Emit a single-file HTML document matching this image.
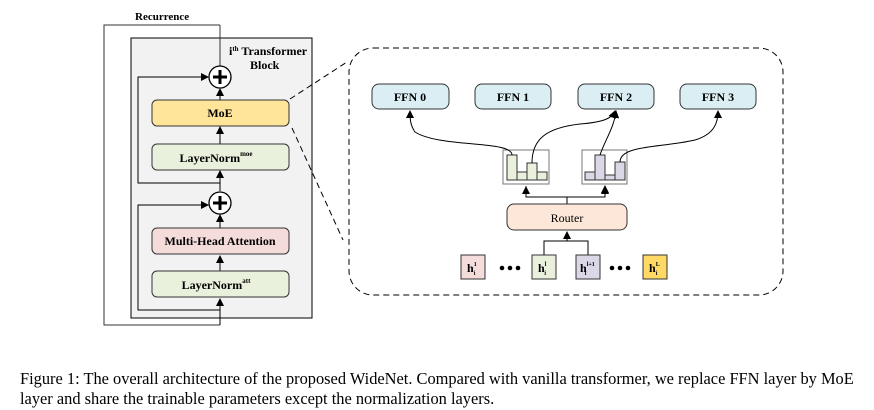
<!DOCTYPE html>
<html><head><style>
body{margin:0;background:#fff;width:874px;height:410px;overflow:hidden;font-family:"Liberation Serif",serif}
.cap{position:absolute;left:20px;top:369px;font-size:16.4px;line-height:20px;color:#000;white-space:nowrap}
</style></head><body>
<svg width="874" height="360" style="position:absolute;left:0;top:0" font-family="Liberation Serif, serif">
<defs><marker id="a" markerWidth="8" markerHeight="8" refX="7" refY="4" orient="auto" markerUnits="userSpaceOnUse"><path d="M0,0L8,4L0,8z" fill="#000"/></marker></defs>
<path d="M220,25H104V325H220" fill="none" stroke="#333" stroke-width="1"/>
<text x="135" y="20" font-size="11" font-weight="bold">Recurrence</text>
<rect x="131" y="38" width="181" height="280" fill="#f2f2f2" stroke="#000"/>
<line x1="220" y1="25" x2="220" y2="66" stroke="#333"/>
<text x="229" y="55" font-size="12" font-weight="bold">i<tspan font-size="7" dy="-4">th</tspan><tspan dy="4"> Transformer</tspan></text>
<text x="250" y="69" font-size="12" font-weight="bold">Block</text>
<g stroke="#000" fill="none">
<path d="M220,325V299" marker-end="url(#a)"/>
<path d="M220,271V256" marker-end="url(#a)"/>
<path d="M220,228V215" marker-end="url(#a)"/>
<path d="M220,191V171" marker-end="url(#a)"/>
<path d="M220,144V127" marker-end="url(#a)"/>
<path d="M220,100V89" marker-end="url(#a)"/>
<path d="M220,310H138V205H208" marker-end="url(#a)"/>
<path d="M220,183H138V77H208" marker-end="url(#a)"/>
</g>
<g stroke="#000" stroke-width="1.3">
<circle cx="220" cy="77" r="11" fill="#fff"/><path d="M213,77H227M220,70V84" stroke-width="3"/>
<circle cx="220" cy="203" r="11" fill="#fff"/><path d="M213,203H227M220,196V210" stroke-width="3"/>
</g>
<g stroke="#333">
<rect x="152" y="100" width="137" height="26" rx="5" fill="#ffe599"/>
<rect x="152" y="144" width="137" height="26" rx="5" fill="#e9f0dc"/>
<rect x="152" y="228" width="137" height="26" rx="5" fill="#f4dcdb"/>
<rect x="152" y="271" width="137" height="26" rx="5" fill="#e9f0dc"/>
</g>
<g font-size="12" font-weight="bold" text-anchor="middle">
<text x="220" y="117">MoE</text>
<text x="216" y="162">LayerNorm<tspan font-size="7" dy="-6">moe</tspan></text>
<text x="220" y="245">Multi-Head Attention</text>
<text x="216" y="289">LayerNorm<tspan font-size="7" dy="-6">att</tspan></text>
</g>
<g stroke="#000" stroke-dasharray="6,4" fill="none">
<path d="M290,99L347,62"/><path d="M292,128L343,240"/>
<rect x="349" y="48" width="434" height="247" rx="24"/>
</g>
<g stroke="#333" fill="#dbeef3">
<rect x="372" y="84" width="77" height="25" rx="7"/>
<rect x="475" y="84" width="76" height="25" rx="7"/>
<rect x="578" y="84" width="76" height="25" rx="7"/>
<rect x="680" y="84" width="76" height="25" rx="7"/>
</g>
<g font-size="12" font-weight="bold" text-anchor="middle">
<text x="410" y="101">FFN 0</text><text x="513" y="101">FFN 1</text><text x="616" y="101">FFN 2</text><text x="718" y="101">FFN 3</text>
</g>
<rect x="503" y="150" width="46" height="34" stroke="#777" fill="#fff"/>
<rect x="582" y="150" width="45" height="34" stroke="#777" fill="#fff"/>
<g stroke="#333" fill="#e9f0dc">
<rect x="507" y="155" width="10" height="25"/><rect x="517" y="172" width="10" height="8"/><rect x="527" y="163" width="10" height="17"/><rect x="537" y="172" width="10" height="8"/>
</g>
<g stroke="#333" fill="#dcd7e6">
<rect x="585" y="172" width="10" height="8"/><rect x="595" y="155" width="10" height="25"/><rect x="605" y="175" width="10" height="5"/><rect x="615" y="162" width="10" height="18"/>
</g>
<g fill="none" stroke="#000">
<path d="M512,155C512,140 440,148 415,132C410,125 410,118 410,111" marker-end="url(#a)"/>
<path d="M532,163C532,140 545,128 580,124C605,122 612,118 615,111" marker-end="url(#a)"/>
<path d="M600,155C605,140 614,128 616,111" marker-end="url(#a)"/>
<path d="M620,162C620,145 660,148 695,140C715,134 718,122 718,111" marker-end="url(#a)"/>
<path d="M567,204V197H526V186M567,197H605V186" marker-end="url(#a)"/>
<path d="M544,255V241H588V255M567,241V232" marker-end="url(#a)"/>
</g>
<path d="M526,186l-4,8h8z M605,186l-4,8h8z" fill="#000"/>
<rect x="507" y="204" width="120" height="26" rx="7" fill="#fce7d9" stroke="#333"/>
<text x="567" y="222" font-size="12" text-anchor="middle">Router</text>
<g stroke="#333">
<rect x="461" y="255" width="24" height="24" fill="#f4dcdb"/>
<rect x="532" y="255" width="24" height="24" fill="#e9f0dc"/>
<rect x="576" y="255" width="24" height="24" fill="#dcd7e6"/>
<rect x="643" y="255" width="24" height="24" fill="#ffd966"/>
</g>
<g font-size="12" font-weight="bold">
<text x="467" y="272">h<tspan font-size="6" dy="-6">1</tspan><tspan font-size="6" dx="-3" dy="9">i</tspan></text>
<text x="538" y="272">h<tspan font-size="6" dy="-6">l</tspan><tspan font-size="6" dx="-2" dy="9">i</tspan></text>
<text x="580" y="272">h<tspan font-size="6" dy="-6">l+1</tspan><tspan font-size="6" dx="-10" dy="9">i</tspan></text>
<text x="649" y="272">h<tspan font-size="6" dy="-6">L</tspan><tspan font-size="6" dx="-4" dy="9">i</tspan></text>
</g>
<g fill="#000">
<circle cx="502" cy="268" r="2.3"/><circle cx="510" cy="268" r="2.3"/><circle cx="518" cy="268" r="2.3"/>
<circle cx="612" cy="268" r="2.3"/><circle cx="620" cy="268" r="2.3"/><circle cx="628" cy="268" r="2.3"/>
</g>
</svg>
<div class="cap">Figure 1: The overall architecture of the proposed WideNet. Compared with vanilla transformer, we replace FFN layer by MoE<br>layer and share the trainable parameters except the normalization layers.</div>
</body></html>
